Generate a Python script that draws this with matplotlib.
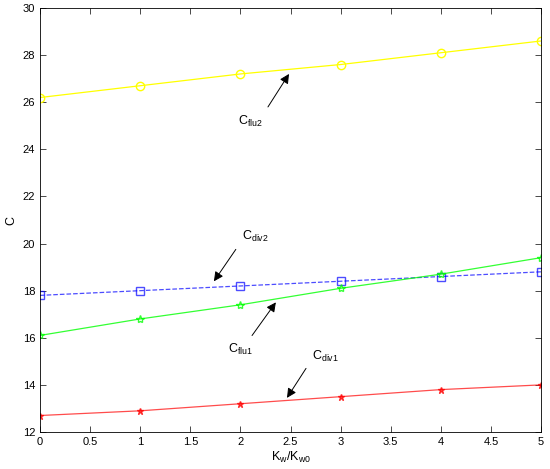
import matplotlib
matplotlib.use("Agg")
import matplotlib.pyplot as plt

x = [0, 1, 2, 3, 4, 5]
c_flu2 = [26.2, 26.7, 27.2, 27.6, 28.1, 28.6]
c_div2 = [17.8, 18.0, 18.2, 18.4, 18.6, 18.8]
c_flu1 = [16.1, 16.8, 17.4, 18.1, 18.7, 19.4]
c_div1 = [12.7, 12.9, 13.2, 13.5, 13.8, 14.0]

plt.rcParams['font.family'] = ['Liberation Sans', 'DejaVu Sans']
fig = plt.figure(figsize=(5.5, 4.69), dpi=100)
ax = fig.add_axes([40/550, 1-432/469, 501/550, 424/469])

ax.plot(x, c_flu2, '-o', color='#ffff00', mfc='none', ms=6, lw=0.9)
ax.plot(x, c_div2, '--s', color='#0000ff', mfc='none', ms=6, lw=0.9, alpha=0.7)
ax.plot(x, c_flu1, '-*', color='#00ff00', mfc='none', ms=6, lw=0.9, alpha=0.8)
ax.plot(x, c_div1, '-*', color='#ff0000', ms=5, lw=0.9, alpha=0.7)

ax.set_xlim(0, 5)
ax.set_ylim(12, 30)
ax.set_xticks([0, 0.5, 1, 1.5, 2, 2.5, 3, 3.5, 4, 4.5, 5])
ax.set_xticklabels(['0', '0.5', '1', '1.5', '2', '2.5', '3', '3.5', '4', '4.5', '5'])
ax.set_yticks(range(12, 31, 2))
ax.tick_params(direction='in', top=True, right=True, labelsize=8, length=4, width=0.5)
for s in ax.spines.values():
    s.set_linewidth(0.6)
ax.set_xlabel('$\\mathregular{K_w/K_{w0}}$', fontsize=9, labelpad=2)
ax.set_ylabel('C', fontsize=9, labelpad=4)

arr = dict(arrowstyle='-|>', color='black', lw=0.7, mutation_scale=14)
notes = [
    ('$\\mathregular{C_{flu2}}$', (2.5, 27.3), (2.26, 25.7), (2.1, 25.2)),
    ('$\\mathregular{C_{div2}}$', (1.72, 18.3), (1.97, 19.85), (2.15, 20.3)),
    ('$\\mathregular{C_{flu1}}$', (2.37, 17.6), (2.1, 16.0), (2.0, 15.5)),
    ('$\\mathregular{C_{div1}}$', (2.45, 13.35), (2.67, 14.8), (2.85, 15.2)),
]
for label, head, tail, pos in notes:
    ax.annotate('', xy=head, xytext=tail, arrowprops=arr)
    ax.text(pos[0], pos[1], label, fontsize=9, ha='center', va='center')

fig.savefig('out.png', dpi=100)
